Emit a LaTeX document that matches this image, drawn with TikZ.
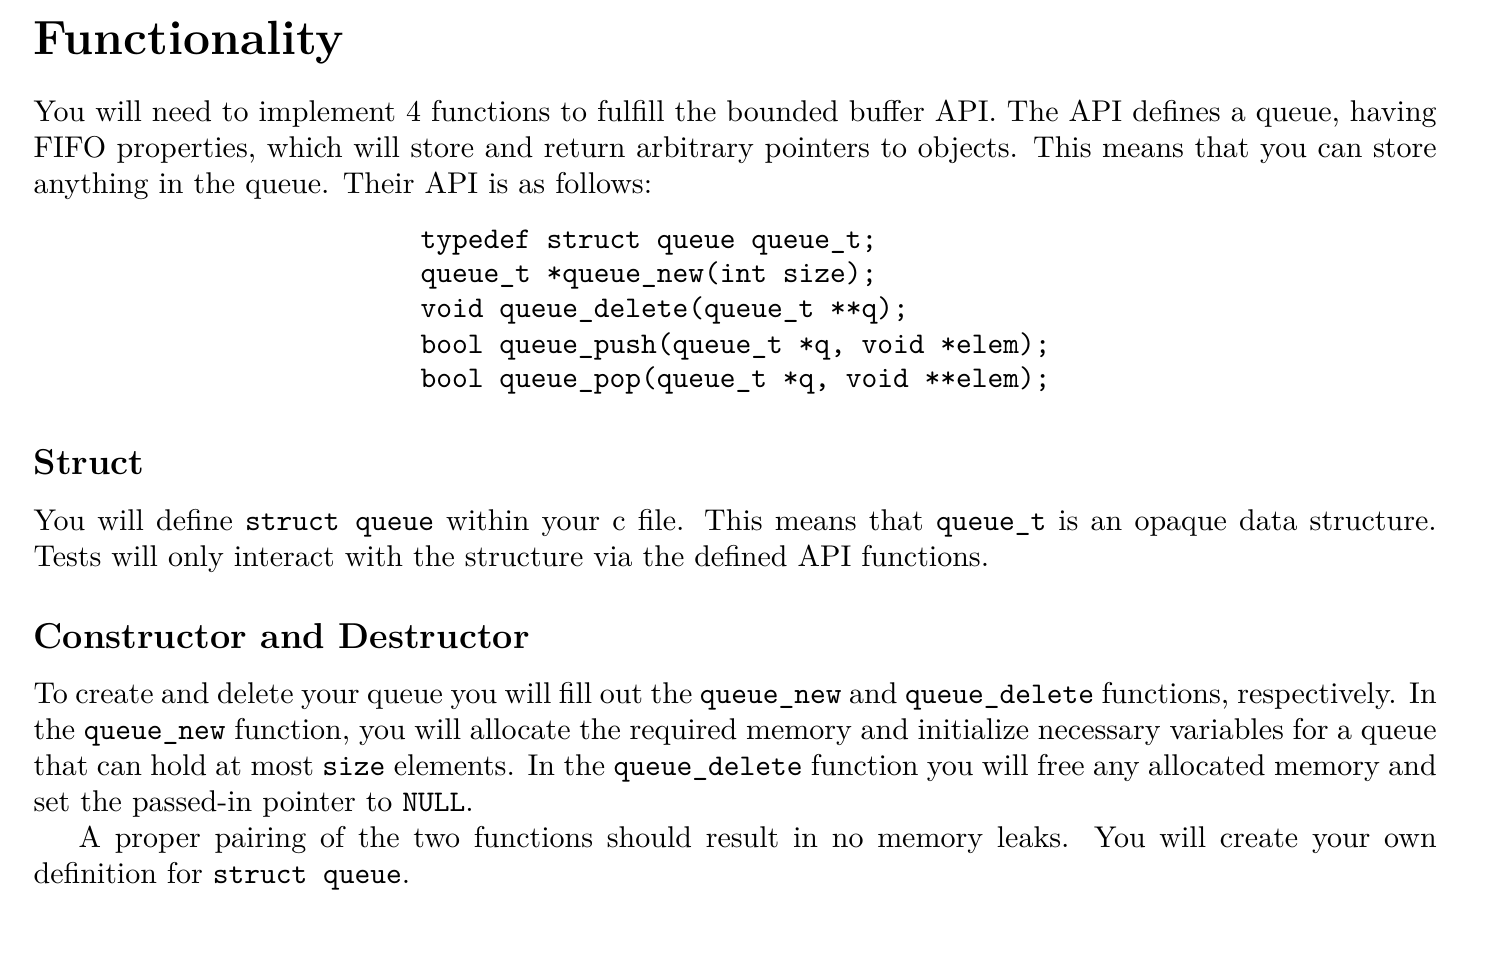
\documentclass[tikz,border=0pt]{standalone}
\begin{document}
\begin{tikzpicture}[x=1pt,y=1pt,
  para/.style={anchor=north west,inner sep=0pt,text width=467.7pt,align=justify,font=\fontsize{10}{12}\selectfont},
  head/.style={anchor=base west,inner sep=0pt,font=\bfseries},
  code/.style={anchor=base west,inner sep=0pt,font=\ttfamily\fontsize{10}{12}\selectfont}]
\useasboundingbox (0,0) rectangle (500,-323.33);
\node[head,font=\bfseries\fontsize{16}{19}\selectfont] (h1) at (11,-18.3) {Functionality};
\node[para] (p1) at (11,-33.06) {You will need to implement 4 functions to fulfill the bounded buffer API. The API defines a queue, having\linebreak FIFO properties, which will store and return arbitrary pointers to objects. This means that you can store\linebreak anything in the queue. Their API is as follows:};
\node[code] (c1) at (140,-82.67) {typedef struct queue queue\_t;};
\node[code] (c2) at (140,-94.33) {queue\_t *queue\_new(int size);};
\node[code] (c3) at (140,-106) {void queue\_delete(queue\_t **q);};
\node[code] (c4) at (140,-117.67) {bool queue\_push(queue\_t *q, void *elem);};
\node[code] (c5) at (140,-129.33) {bool queue\_pop(queue\_t *q, void **elem);};
\node[head,font=\bfseries\fontsize{12}{14}\selectfont] (h2) at (11,-158.3) {Struct};
\node[para] (p2) at (11,-169.73) {You will define \texttt{struct queue} within your c file. This means that \texttt{queue\_t} is an opaque data structure.\linebreak Tests will only interact with the structure via the defined API functions.};
\node[head,font=\bfseries\fontsize{12}{14}\selectfont] (h3) at (11,-216) {Constructor and Destructor};
\node[para] (p3) at (11,-227.4) {To create and delete your queue you will fill out the \texttt{queue\_new} and \texttt{queue\_delete} functions, respectively. In\linebreak the \texttt{queue\_new} function, you will allocate the required memory and initialize necessary variables for a queue\linebreak that can hold at most \texttt{size} elements. In the \texttt{queue\_delete} function you will free any allocated memory and\linebreak set the passed-in pointer to \texttt{NULL}.\par
\hspace*{15pt}A proper pairing of the two functions should result in no memory leaks. You will create your own\linebreak definition for \texttt{struct queue}.};
\end{tikzpicture}
\end{document}
